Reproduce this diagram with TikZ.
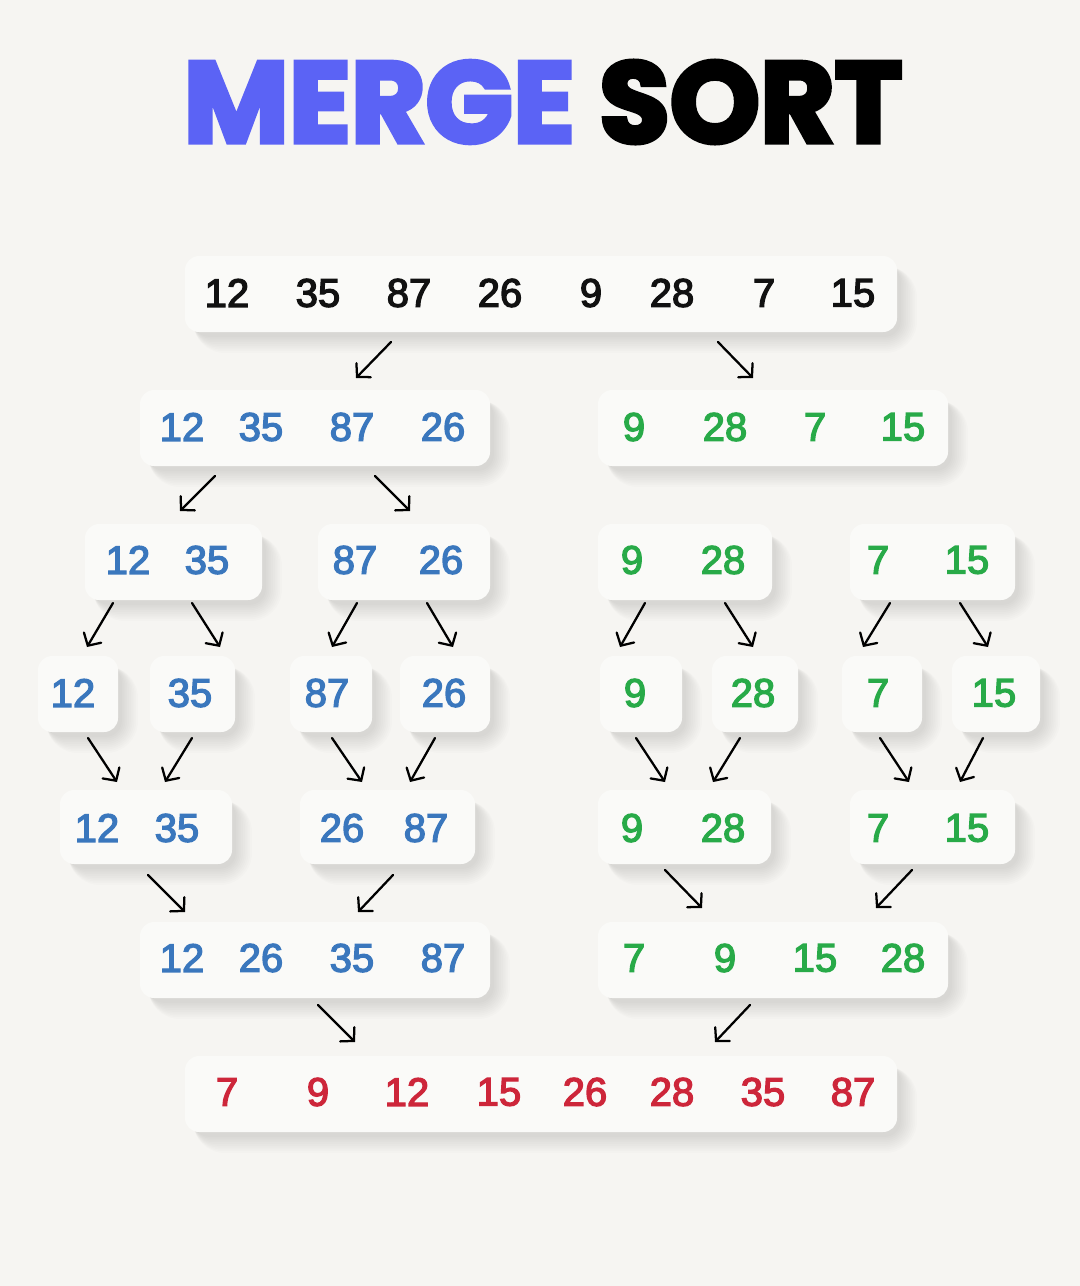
\documentclass[tikz,border=0pt]{standalone}
\usepackage{fontspec}
\setmainfont{Liberation Sans}
\newfontfamily\numf[FakeBold=3.2]{Liberation Sans}
\newfontfamily\titlef[FakeBold=4]{Poppins}
\usetikzlibrary{fit,arrows.meta}
\definecolor{bgcol}{RGB}{246,245,242}
\definecolor{boxcol}{RGB}{250,250,248}
\definecolor{nblue}{RGB}{58,119,189}
\definecolor{ngreen}{RGB}{40,170,72}
\definecolor{nred}{RGB}{205,38,58}
\definecolor{nblack}{RGB}{17,17,17}
\definecolor{tblue}{RGB}{91,99,245}
\newcommand\cellbox[5]{%
  \foreach \k in {1,...,10}{%
    \pgfmathsetmacro\ee{\k*1.8}%
    \pgfmathsetmacro\rr{(14+\ee)*0.75}%
    \fill[black,opacity=0.011,rounded corners=\rr pt] ({#2+8},{#3+10}) rectangle ({#4+2+\ee},{#5+3+\ee});
  }%
  \node[rowbox,fit={(#2,#3) (#4,#5)}] (#1) {};
}
\begin{document}
\begin{tikzpicture}[x=0.75pt,y=-0.75pt,
  rowbox/.style={fill=boxcol,draw=none,rounded corners=10.5pt,inner sep=0pt},
  num/.style={font=\numf\fontsize{30}{30}\selectfont,inner sep=0pt,anchor=center},
  nb/.style={num,text=nblack},
  bl/.style={num,text=nblue},
  gr/.style={num,text=ngreen},
  rd/.style={num,text=nred},
  arr/.style={line width=1.7pt,draw=black,line cap=round,-{Straight Barb[length=7pt,width=15pt,line cap=round]}}]
\fill[bgcol] (0,0) rectangle (1080,1286);
\useasboundingbox (0,0) rectangle (1080,1286);

% title
\node[font=\titlef\bfseries\fontsize{86}{86}\selectfont,inner sep=0pt,anchor=center] (title) at (543,102) {\textcolor{tblue}{MERGE} \textcolor{black}{SORT}};

% boxes
\cellbox{b1}{185}{256}{897}{332}
\cellbox{b2l}{140}{390}{490}{466}
\cellbox{b2r}{598}{390}{948}{466}
\cellbox{b3a}{85}{524}{262}{600}
\cellbox{b3b}{318}{524}{490}{600}
\cellbox{b3c}{598}{524}{772}{600}
\cellbox{b3d}{850}{524}{1015}{600}
\cellbox{b4a}{38}{656}{118}{732}
\cellbox{b4b}{150}{656}{235}{732}
\cellbox{b4c}{290}{656}{372}{732}
\cellbox{b4d}{400}{656}{490}{732}
\cellbox{b4e}{600}{656}{682}{732}
\cellbox{b4f}{712}{656}{798}{732}
\cellbox{b4g}{842}{656}{922}{732}
\cellbox{b4h}{952}{656}{1040}{732}
\cellbox{b5a}{60}{790}{232}{864}
\cellbox{b5b}{300}{790}{475}{864}
\cellbox{b5c}{598}{790}{771}{864}
\cellbox{b5d}{850}{790}{1015}{864}
\cellbox{b6l}{140}{922}{490}{998}
\cellbox{b6r}{598}{922}{948}{998}
\cellbox{b7}{185}{1056}{897}{1132}

% row 1
\node[nb] (r1a) at (227,293) {12};
\node[nb] (r1b) at (318,293) {35};
\node[nb] (r1c) at (409,293) {87};
\node[nb] (r1d) at (500,293) {26};
\node[nb] (r1e) at (591,293) {9};
\node[nb] (r1f) at (672,293) {28};
\node[nb] (r1g) at (764,293) {7};
\node[nb] (r1h) at (853,293) {15};
% row 2
\node[bl] (r2a) at (182,427) {12};
\node[bl] (r2b) at (261,427) {35};
\node[bl] (r2c) at (352,427) {87};
\node[bl] (r2d) at (443,427) {26};
\node[gr] (r2e) at (634,427) {9};
\node[gr] (r2f) at (725,427) {28};
\node[gr] (r2g) at (815,427) {7};
\node[gr] (r2h) at (903,427) {15};
% row 3
\node[bl] (r3a) at (128,560) {12};
\node[bl] (r3b) at (207,560) {35};
\node[bl] (r3c) at (355,560) {87};
\node[bl] (r3d) at (441,560) {26};
\node[gr] (r3e) at (632,560) {9};
\node[gr] (r3f) at (723,560) {28};
\node[gr] (r3g) at (878,560) {7};
\node[gr] (r3h) at (967,560) {15};
% row 4
\node[bl] (r4a) at (73,693) {12};
\node[bl] (r4b) at (190,693) {35};
\node[bl] (r4c) at (327,693) {87};
\node[bl] (r4d) at (444,693) {26};
\node[gr] (r4e) at (635,693) {9};
\node[gr] (r4f) at (753,693) {28};
\node[gr] (r4g) at (878,693) {7};
\node[gr] (r4h) at (994,693) {15};
% row 5
\node[bl] (r5a) at (97,828) {12};
\node[bl] (r5b) at (177,828) {35};
\node[bl] (r5c) at (342,828) {26};
\node[bl] (r5d) at (426,828) {87};
\node[gr] (r5e) at (632,828) {9};
\node[gr] (r5f) at (723,828) {28};
\node[gr] (r5g) at (878,828) {7};
\node[gr] (r5h) at (967,828) {15};
% row 6
\node[bl] (r6a) at (182,958) {12};
\node[bl] (r6b) at (261,958) {26};
\node[bl] (r6c) at (352,958) {35};
\node[bl] (r6d) at (443,958) {87};
\node[gr] (r6e) at (634,958) {7};
\node[gr] (r6f) at (725,958) {9};
\node[gr] (r6g) at (815,958) {15};
\node[gr] (r6h) at (903,958) {28};
% row 7
\node[rd] (r7a) at (227,1092) {7};
\node[rd] (r7b) at (318,1092) {9};
\node[rd] (r7c) at (407,1092) {12};
\node[rd] (r7d) at (499,1092) {15};
\node[rd] (r7e) at (585,1092) {26};
\node[rd] (r7f) at (672,1092) {28};
\node[rd] (r7g) at (763,1092) {35};
\node[rd] (r7h) at (853,1092) {87};

% arrow end points
\coordinate (a1s) at (391,342); \coordinate (a1e) at (356,378);
\coordinate (a2s) at (718,342); \coordinate (a2e) at (753,378);
\coordinate (a3s) at (215,476); \coordinate (a3e) at (180,511);
\coordinate (a4s) at (375,476); \coordinate (a4e) at (410,511);
\coordinate (a5s) at (113,603); \coordinate (a5e) at (87,647);
\coordinate (a6s) at (192,603); \coordinate (a6e) at (220,647);
\coordinate (a7s) at (357,603); \coordinate (a7e) at (332,647);
\coordinate (a8s) at (427,603); \coordinate (a8e) at (453,647);
\coordinate (a9s) at (645,603); \coordinate (a9e) at (620,647);
\coordinate (a10s) at (725,603); \coordinate (a10e) at (753,647);
\coordinate (a11s) at (890,603); \coordinate (a11e) at (863,647);
\coordinate (a12s) at (960,603); \coordinate (a12e) at (988,647);
\coordinate (a13s) at (88,738); \coordinate (a13e) at (117,782);
\coordinate (a14s) at (192,738); \coordinate (a14e) at (165,782);
\coordinate (a15s) at (332,738); \coordinate (a15e) at (362,782);
\coordinate (a16s) at (435,738); \coordinate (a16e) at (410,782);
\coordinate (a17s) at (636,738); \coordinate (a17e) at (665,782);
\coordinate (a18s) at (740,738); \coordinate (a18e) at (713,782);
\coordinate (a19s) at (880,738); \coordinate (a19e) at (909,782);
\coordinate (a20s) at (983,738); \coordinate (a20e) at (960,782);
\coordinate (a21s) at (148,875); \coordinate (a21e) at (185,912);
\coordinate (a22s) at (393,875); \coordinate (a22e) at (358,912);
\coordinate (a23s) at (665,870); \coordinate (a23e) at (702,908);
\coordinate (a24s) at (912,870); \coordinate (a24e) at (876,908);
\coordinate (a25s) at (318,1005); \coordinate (a25e) at (355,1042);
\coordinate (a26s) at (750,1005); \coordinate (a26e) at (715,1042);
\foreach \i in {1,...,26}{\draw[arr] (a\i s) -- (a\i e);}
\end{tikzpicture}
\end{document}
